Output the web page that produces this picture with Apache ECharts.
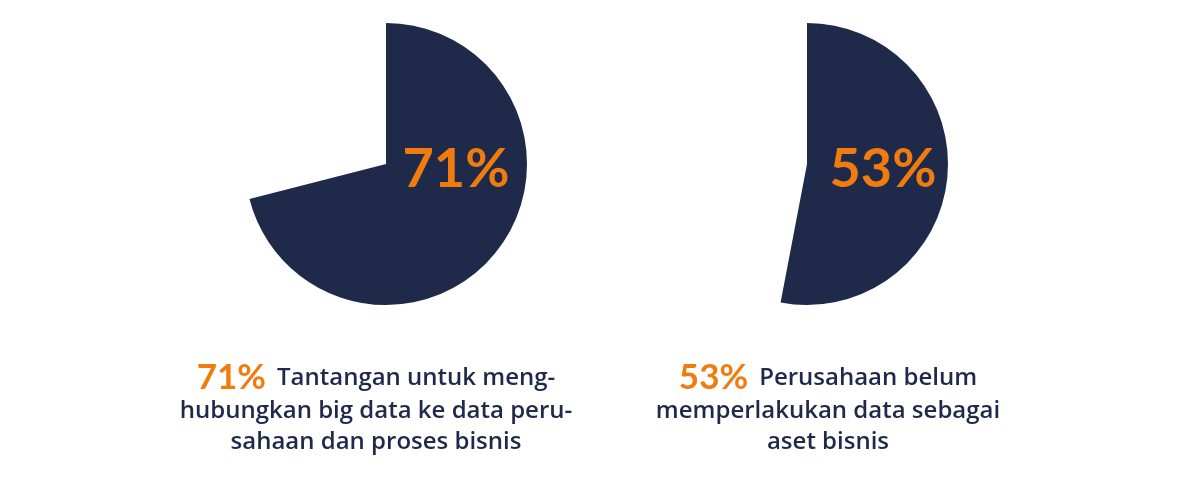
<!doctype html>
<html>
<head>
<meta charset="utf-8">
<title>Big data</title>
<style>
html, body { margin:0; padding:0; background:#fff; }
#chart { width:1200px; height:480px; }
</style>
<script src="https://cdn.jsdelivr.net/npm/echarts@6/dist/echarts.min.js"></script>
</head>
<body>
<div id="chart"></div>
<script>
// nilai persentase dan teks keterangan
var percents = [71, 53];
var captions = [
    ['Tantangan untuk meng-', 'hubungkan big data ke data peru-', 'sahaan dan proses bisnis'],
    ['Perusahaan belum', 'memperlakukan data sebagai', 'aset bisnis']
];
var centersX = [386, 807];
var captionX = [371, 823];

var navy = '#1f2a4b';
var orange = '#f07b0e';

var myChart = echarts.init(document.getElementById('chart'));

var series = [];
var titles = [];
percents.forEach(function (p, i) {
    series.push({
        type: 'pie',
        center: [centersX[i], 164],
        radius: [0, 141],
        startAngle: 90,
        clockwise: true,
        silent: true,
        animation: false,
        labelLine: { show: false },
        data: [
            {
                value: p,
                itemStyle: { color: navy },
                label: {
                    show: true,
                    position: 'center',
                    offset: [i == 0 ? 70 : 76, 6],
                    formatter: p + '%',
                    color: orange,
                    fontFamily: 'Lato',
                    fontWeight: 'bold',
                    fontSize: 54
                }
            },
            {
                value: 100 - p,
                itemStyle: { color: 'rgba(0,0,0,0)' },
                label: { show: false }
            }
        ]
    });
    var lines = captions[i];
    var txt = '{p|' + p + '%}{gap|}{t|' + lines[0] + '}';
    for (var k = 1; k < lines.length; k++) {
        txt += '\n{t|' + lines[k] + '}';
    }
    titles.push({
        text: txt,
        left: captionX[i],
        top: 355,
        textAlign: 'center',
        textStyle: {
            rich: {
                p: { color: orange, fontFamily: 'Lato', fontWeight: 'bold', fontSize: 35, lineHeight: 36 },
                gap: { width: 11 },
                t: { color: navy, fontFamily: 'Open Sans', fontWeight: 600, fontSize: 24, lineHeight: 31 }
            }
        }
    });
});

var option = {
    backgroundColor: '#fff',
    title: titles,
    series: series
};
myChart.setOption(option);
</script>
</body>
</html>
